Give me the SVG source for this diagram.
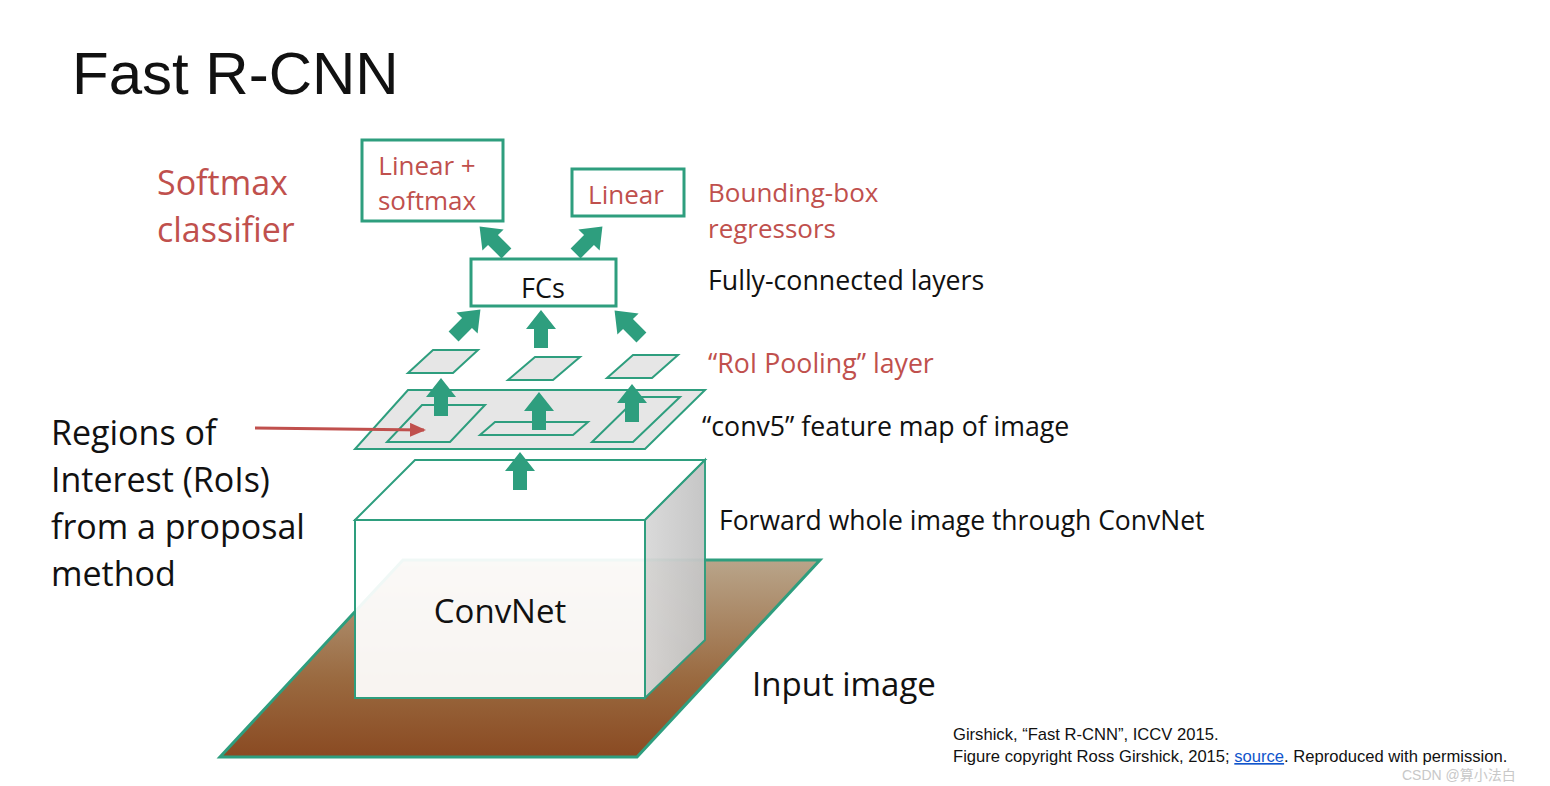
<svg xmlns="http://www.w3.org/2000/svg" width="1550" height="786" viewBox="0 0 1550 786">
<style>
.t{font-family:"Open Sans","Liberation Sans",sans-serif;fill:#111}
.r{font-family:"Open Sans","Liberation Sans",sans-serif;fill:#c0504d}
.box{fill:#fff;stroke:#2e9e7e;stroke-width:3}
.pl{fill:#e6e6e6;stroke:#2e9e7e;stroke-width:2}
.ar{fill:#2e9e7e}
</style>
<defs>
<path id="up" d="M-7,19 L7,19 L7,0 L15,0 L0,-19 L-15,0 L-7,0 Z"/>
<linearGradient id="img" x1="0" y1="0" x2="0" y2="1">
<stop offset="0" stop-color="#b9a58a"/><stop offset="0.6" stop-color="#9a6a40"/><stop offset="1" stop-color="#8a4a22"/>
</linearGradient>
<linearGradient id="side" x1="0" y1="0" x2="1" y2="0">
<stop offset="0" stop-color="#d8d8d8"/><stop offset="1" stop-color="#c4c4c4"/>
</linearGradient>
<marker id="ra" markerWidth="16" markerHeight="14" refX="14" refY="7" orient="auto" markerUnits="userSpaceOnUse">
<path d="M0,0 L16,7 L0,14 Z" fill="#c0504d"/>
</marker>
</defs>
<rect width="1550" height="786" fill="#fff"/>
<text x="72" y="94" font-family="Liberation Sans,sans-serif" font-size="60" fill="#111">Fast R-CNN</text>

<g id="input-image">
<polygon points="220,757 637,757 820,560 403,560" fill="url(#img)" stroke="#2e9e7e" stroke-width="3"/>
</g>
<g id="convnet">
<polygon points="355,520 415,460 705,460 645,520" fill="#fff" stroke="#2e9e7e" stroke-width="2"/>
<polygon points="645,520 705,460 705,640 645,698" fill="url(#side)" stroke="#2e9e7e" stroke-width="2" opacity="0.95"/>
<rect x="355" y="520" width="290" height="178" fill="#fff" fill-opacity="0.93" stroke="#2e9e7e" stroke-width="2"/>
<text x="500" y="623" class="t" font-size="33" text-anchor="middle">ConvNet</text>
</g>
<g id="conv5">
<polygon class="pl" points="355,449 645,449 705,390 408,390"/>
<polygon fill="none" stroke="#2e9e7e" stroke-width="2" points="387,442 450,442 485,405 422,405"/>
<polygon fill="none" stroke="#2e9e7e" stroke-width="2" points="480,435 573,435 588,422 495,422"/>
<polygon fill="none" stroke="#2e9e7e" stroke-width="2" points="592,442 633,442 680,397 638,397"/>
</g>
<g id="roi-pool">
<polygon class="pl" points="408,373 453,373 478,350 433,350"/>
<polygon class="pl" points="508,380 553,380 580,357 535,357"/>
<polygon class="pl" points="607,378 652,378 678,355 633,355"/>
</g>
<g id="fcs"><rect class="box" x="471" y="259" width="145" height="47"/><text x="543" y="298" class="t" font-size="27" text-anchor="middle">FCs</text></g>
<g id="linear-softmax"><rect class="box" x="362" y="140" width="141" height="81"/>
<text x="427" y="175" class="r" font-size="26" text-anchor="middle">Linear +</text>
<text x="427" y="210" class="r" font-size="26" text-anchor="middle">softmax</text></g>
<g id="linear"><rect class="box" x="572" y="169" width="112" height="47"/><text x="626" y="204" class="r" font-size="26" text-anchor="middle">Linear</text></g>

<g id="connectors" class="ar">
<use href="#up" transform="translate(520,471)"/>
<use href="#up" transform="translate(441,397)"/>
<use href="#up" transform="translate(539,411)"/>
<use href="#up" transform="translate(632,403)"/>
<use href="#up" transform="translate(541,329)"/>
<use href="#up" transform="translate(467,323) rotate(45)"/>
<use href="#up" transform="translate(628,324) rotate(-45)"/>
<use href="#up" transform="translate(493,240) rotate(-45)"/>
<use href="#up" transform="translate(589,240) rotate(45)"/>
<line x1="255" y1="428" x2="424" y2="430" stroke="#c0504d" stroke-width="3" marker-end="url(#ra)"/>
</g>

<g id="labels">
<text x="157" y="195" class="r" font-size="34">Softmax</text>
<text x="157" y="242" class="r" font-size="34">classifier</text>
<text x="708" y="202" class="r" font-size="26">Bounding-box</text>
<text x="708" y="238" class="r" font-size="26">regressors</text>
<text x="708" y="290" class="t" font-size="26.7">Fully-connected layers</text>
<text x="708" y="373" class="r" font-size="26.7">“RoI Pooling” layer</text>
<text x="702" y="436" class="t" font-size="26.7">“conv5” feature map of image</text>
<text x="719" y="530" class="t" font-size="26.5">Forward whole image through ConvNet</text>
<text x="752" y="696" class="t" font-size="33">Input image</text>
<text x="51" y="445" class="t" font-size="34">Regions of</text>
<text x="51" y="492" class="t" font-size="34">Interest (RoIs)</text>
<text x="51" y="539" class="t" font-size="34">from a proposal</text>
<text x="51" y="586" class="t" font-size="34">method</text>
<text x="953" y="740" font-family="Liberation Sans,sans-serif" font-size="16.6" fill="#111">Girshick, “Fast R-CNN”, ICCV 2015.</text>
<text x="953" y="762" font-family="Liberation Sans,sans-serif" font-size="16.6" fill="#111">Figure copyright Ross Girshick, 2015; <tspan fill="#1155cc" text-decoration="underline">source</tspan>. Reproduced with permission.</text>
<text x="1402" y="780" font-family="Liberation Sans,'Noto Sans CJK SC',sans-serif" font-size="14" fill="#c8c8c8">CSDN @算小法白</text>
</g>
</svg>
